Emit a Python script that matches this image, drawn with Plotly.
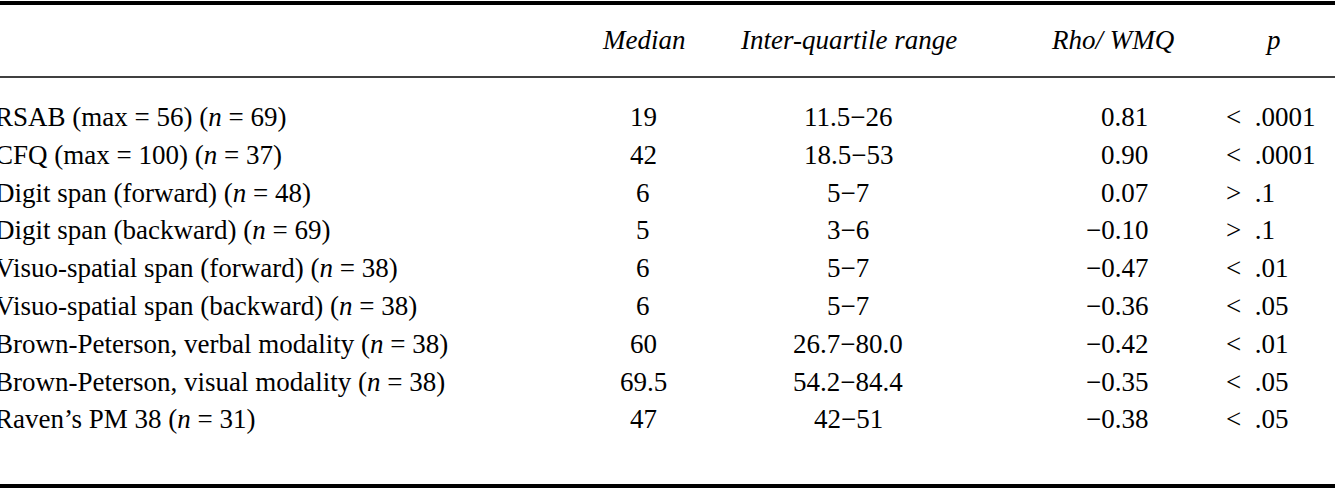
import plotly.graph_objects as go

headers = ["Median", "Inter-quartile range", "Rho/ WMQ", "p"]
labels = ["RSAB (max = 56) (<i>n</i> = 69)", "CFQ (max = 100) (<i>n</i> = 37)",
          "Digit span (forward) (<i>n</i> = 48)", "Digit span (backward) (<i>n</i> = 69)",
          "Visuo-spatial span (forward) (<i>n</i> = 38)", "Visuo-spatial span (backward) (<i>n</i> = 38)",
          "Brown-Peterson, verbal modality (<i>n</i> = 38)", "Brown-Peterson, visual modality (<i>n</i> = 38)",
          "Raven’s PM 38 (<i>n</i> = 31)"]
medians = ["19", "42", "6", "5", "6", "6", "60", "69.5", "47"]
iqr = ["11.5−26", "18.5−53", "5−7", "3−6", "5−7", "5−7", "26.7−80.0", "54.2−84.4", "42−51"]
rho = ["0.81", "0.90", "0.07", "−0.10", "−0.47", "−0.36", "−0.42", "−0.35", "−0.38"]
pvals = ["<  .0001", "<  .0001", ">  .1", ">  .1", "<  .01", "<  .05", "<  .01", "<  .05", "<  .05"]

W, H = 1335, 489
FONT = dict(family="Liberation Serif", size=27, color="black")
fig = go.Figure()
fig.update_layout(width=W, height=H, margin=dict(l=0, r=0, t=0, b=0),
                  plot_bgcolor="white", paper_bgcolor="white", showlegend=False,
                  xaxis=dict(range=[0, W], visible=False, fixedrange=True),
                  yaxis=dict(range=[H, 0], visible=False, fixedrange=True))

def ann(x, y, t, anchor="center", xshift=0):
    fig.add_annotation(x=x, y=y, text=t, showarrow=False, xanchor=anchor, yanchor="middle",
                       font=FONT, xref="x", yref="y", xshift=xshift)

hx = [643, 848, 1112, 1273]
for x, h in zip(hx, headers):
    ann(x, 40, "<i>" + h + "</i>")

y0, dy = 117, 37.8
for i in range(len(labels)):
    y = y0 + i * dy
    ann(0, y, labels[i], "left", xshift=-7)
    ann(643, y, medians[i])
    ann(848, y, iqr[i])
    ann(1150, y, rho[i], "right")
    ann(1224, y, pvals[i], "left")

fig.add_shape(type="line", x0=0, x1=W, y0=3, y1=3, line=dict(color="black", width=4))
fig.add_shape(type="line", x0=0, x1=W, y0=77, y1=77, line=dict(color="black", width=1.5))
fig.add_shape(type="line", x0=0, x1=W, y0=486, y1=486, line=dict(color="black", width=4))

fig.write_html("out.html", config={"displayModeBar": False},
               post_script="document.body.style.margin='0';")
